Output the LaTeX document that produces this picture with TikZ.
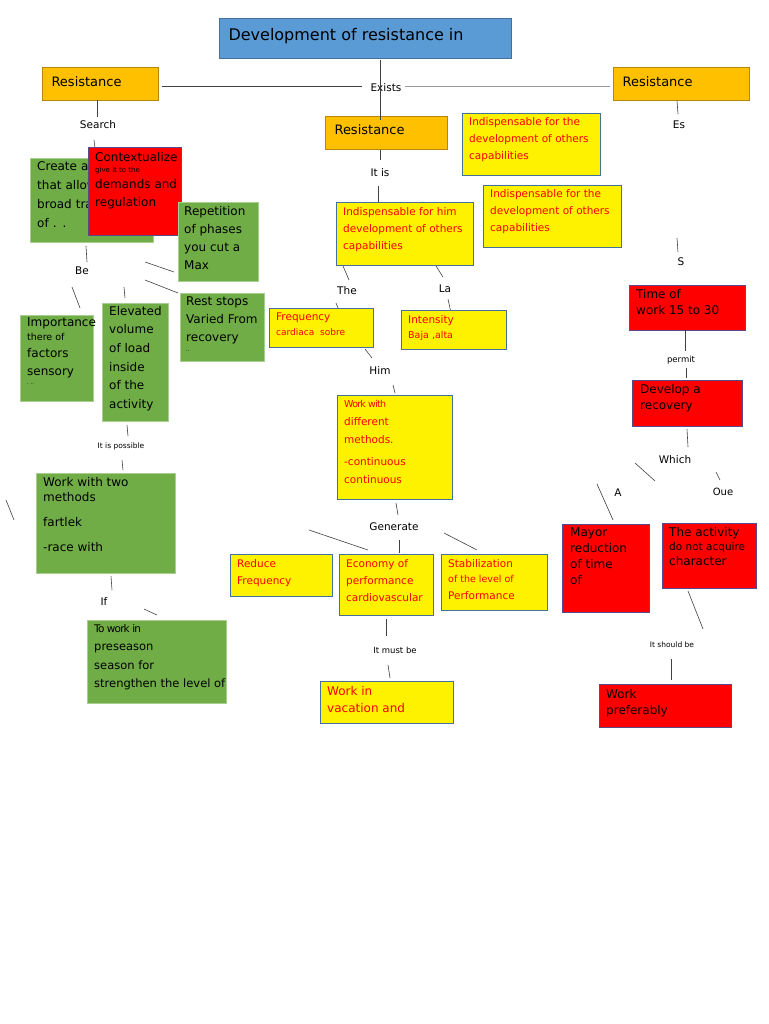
\documentclass[tikz,border=0pt]{standalone}
\usepackage{fontspec}
\setmainfont{DejaVu Sans}
\definecolor{obox}{HTML}{FFC000}
\definecolor{oline}{HTML}{B8860B}
\definecolor{gbox}{HTML}{70AD47}
\definecolor{tbox}{HTML}{5B9BD5}
\definecolor{bline}{HTML}{41719C}
\definecolor{rline}{HTML}{5A4A8A}
\begin{document}
\begin{tikzpicture}[x=1pt,y=-1pt,
 tx/.style={anchor=north west,inner sep=0pt,align=left},
 lab/.style={font=\fontsize{10.5}{11}\selectfont},
 sm/.style={font=\fontsize{7.5}{8}\selectfont},
 ln/.style={draw=black!75,line width=0.6pt},
 gfill/.style={fill=gbox,draw=gbox!60!white},
 rfill/.style={fill=red,draw=rline},
 yfill/.style={fill=yellow,draw=bline}]
\useasboundingbox (0,0) rectangle (768,1024);
\fill[white] (0,0) rectangle (768,1024);
% title
\draw[fill=tbox,draw=bline] (219,18) rectangle (511,58);
\node[anchor=west,font=\fontsize{16}{18}\selectfont] (title) at (225,36) {Development of resistance in};
% resistance boxes
\draw[fill=obox,draw=oline] (42,67) rectangle (158,100);
\node[anchor=west,font=\fontsize{13}{15}\selectfont] (resL) at (48,82) {Resistance};
\draw[fill=obox,draw=oline] (613,67) rectangle (749,100);
\node[anchor=west,font=\fontsize{13}{15}\selectfont] (resR) at (619,82) {Resistance};
\draw[fill=obox,draw=oline] (325,116) rectangle (447,149);
\node[anchor=west,font=\fontsize{13}{15}\selectfont] (resC) at (331,130) {Resistance};
% top lines
\node[lab] (exists) at (386,88) {Exists};
\draw[ln] (162,86) -- (362,86);
\draw[draw=black!40] (405,86) -- (610,86);
\draw[ln] (380,60) -- (380,120);
% left branch
\node[lab] (search) at (98,125) {Search};
\draw[ln] (97,100) -- (97,117);
\draw[ln] (94,140) -- (95,148);
\draw[gfill] (30,158) rectangle (153,242);
\node[tx,text width=95pt,font=\fontsize{12}{19}\selectfont] (create) at (37,161) {Create a base that allows a broad training of . .};
\draw[rfill] (88,147) rectangle (181,235);
\node[tx,font=\fontsize{12}{18}\selectfont] (ctx) at (95,152) {Contextualize\\[-7pt]{\fontsize{7}{7}\selectfont give it to the}\\[-2pt]demands and\\regulation};
\draw[gfill] (178,202) rectangle (258,281);
\node[tx,font=\fontsize{12}{18}\selectfont] (rep) at (184,206) {Repetition\\of phases\\you cut a\\Max};
\draw[gfill] (180,293) rectangle (264,361);
\node[tx,font=\fontsize{12}{18}\selectfont] (rest) at (186,297) {Rest stops\\Varied From\\recovery\\[-8pt]{\tiny ..}};
\node[lab] (be) at (82,271) {Be};
\draw[ln] (86,246) -- (87,262);
\draw[ln] (145,262) -- (174,272);
\draw[ln] (145,280) -- (178,293);
\draw[ln] (72,287) -- (80,308);
\draw[ln] (124,287) -- (125,298);
\draw[gfill] (20,315) rectangle (93,401);
\node[tx,font=\fontsize{12}{18}\selectfont] (imp) at (27,318) {Importance\\[-4pt]{\fontsize{9.5}{10}\selectfont there of}\\[-1pt]factors\\sensory\\[-9pt]{\tiny . ..}};
\draw[gfill] (102,303) rectangle (168,421);
\node[tx,font=\fontsize{12}{18.6}\selectfont] (elev) at (109,306) {Elevated\\volume\\of load\\inside\\of the\\activity};
\node[sm] (poss) at (121,446) {It is possible};
\draw[ln] (127,425) -- (128,436);
\draw[ln] (122,460) -- (123,470);
\draw[gfill] (36,473) rectangle (175,573);
\node[tx,font=\fontsize{12}{15}\selectfont] (two) at (43,477) {Work with two\\methods\\[10pt]fartlek\\[10pt]-race with};
\draw[ln] (6,500) -- (14,520);
\node[lab] (if) at (104,602) {If};
\draw[ln] (111,576) -- (112,590);
\draw[ln] (144,609) -- (157,615);
\draw[gfill] (87,620) rectangle (226,703);
\node[tx,font=\fontsize{11.5}{18.5}\selectfont] (pre) at (94,624) {{\fontsize{10.5}{11}\selectfont\addfontfeature{LetterSpace=-8}To work in}\\preseason\\season for\\strengthen the level of};
% center branch
\node[lab] (itis) at (380,173) {It is};
\draw[ln] (380,150) -- (380,160);
\draw[ln] (378,186) -- (378,210);
\draw[yfill] (336,202) rectangle (473,265);
\node[tx,text=red,font=\fontsize{10.5}{17}\selectfont] (ind) at (343,207) {Indispensable for him\\development of others\\capabilities};
\draw[yfill] (462,113) rectangle (600,175);
\node[tx,text=red,font=\fontsize{10.5}{17}\selectfont] (indA) at (469,117) {Indispensable for the\\development of others\\capabilities};
\draw[yfill] (483,185) rectangle (621,247);
\node[tx,text=red,font=\fontsize{10.5}{17}\selectfont] (indB) at (490,189) {Indispensable for the\\development of others\\capabilities};
\node[lab] (the) at (347,291) {The};
\node[lab,font=\fontsize{10.5}{11}\rmfamily] (la) at (445,289) {La};
\draw[ln] (343,266) -- (349,280);
\draw[ln] (436,266) -- (443,277);
\draw[ln] (448,299) -- (451,313);
\draw[ln] (336,303) -- (338,308);
\draw[yfill] (269,308) rectangle (373,347);
\node[tx,text=red,font=\fontsize{10.5}{17}\selectfont] (freq) at (276,313) {Frequency\\[-2pt]{\rmfamily\fontsize{9}{9}\selectfont cardiaca\ \ sobre}};
\draw[yfill] (401,310) rectangle (506,349);
\node[tx,text=red,font=\fontsize{10.5}{17}\selectfont] (inten) at (408,315) {Intensity\\[-2pt]{\rmfamily\fontsize{9.5}{9}\selectfont Baja ,alta}};
\node[lab] (him) at (380,371) {Him};
\draw[ln] (365,349) -- (372,358);
\draw[ln] (393,385) -- (395,393);
\draw[yfill] (337,395) rectangle (452,499);
\node[tx,text=red,font=\fontsize{10.5}{18}\selectfont] (work) at (344,400) {{\fontsize{9.5}{10}\selectfont\addfontfeature{LetterSpace=-8}Work with}\\different\\methods.\\[4pt]-continuous\\continuous};
\node[lab] (gen) at (394,527) {Generate};
\draw[ln] (396,503) -- (398,515);
\draw[ln] (309,530) -- (368,550);
\draw[ln] (444,533) -- (477,550);
\draw[ln] (399,540) -- (399,553);
\draw[yfill] (230,554) rectangle (332,596);
\node[tx,text=red,font=\fontsize{10.5}{17}\selectfont] (red) at (237,559) {Reduce\\Frequency};
\draw[yfill] (339,554) rectangle (433,615);
\node[tx,text=red,font=\fontsize{10.5}{17}\selectfont] (eco) at (346,559) {Economy of\\performance\\cardiovascular};
\draw[yfill] (441,554) rectangle (547,610);
\node[tx,text=red,font=\fontsize{10.5}{17}\selectfont] (stab) at (448,559) {Stabilization\\[-2pt]{\fontsize{9.5}{10}\selectfont of the level of}\\[0pt]Performance};
\node[font=\fontsize{8.5}{9}\selectfont] (must) at (395,650) {It must be};
\draw[ln] (386,619) -- (386,636);
\draw[ln] (388,665) -- (390,678);
\draw[yfill] (320,681) rectangle (453,723);
\node[tx,text=red,font=\fontsize{12}{17}\selectfont] (vac) at (327,686) {Work in\\vacation and};
% right branch
\node[lab,font=\fontsize{10.5}{11}\rmfamily] (es) at (679,125) {Es};
\draw[ln] (677,101) -- (678,114);
\node[lab] (s) at (681,262) {S};
\draw[ln] (677,238) -- (678,252);
\draw[rfill] (629,285) rectangle (745,330);
\node[tx,font=\fontsize{12}{16}\selectfont] (time) at (636,289) {Time of\\work 15 to 30};
\draw[ln] (685,330) -- (685,351);
\node[font=\fontsize{8.5}{9}\rmfamily] (permit) at (681,360) {permit};
\draw[ln] (686,368) -- (686,378);
\draw[rfill] (632,380) rectangle (742,426);
\node[tx,font=\fontsize{12}{16}\selectfont] (dev) at (640,384) {Develop a\\recovery};
\draw[ln] (687,429) -- (688,447);
\node[lab] (which) at (675,460) {Which};
\draw[ln] (635,463) -- (655,481);
\draw[ln] (716,472) -- (720,480);
\node[lab] (a) at (618,493) {A};
\node[lab,font=\fontsize{10}{10}\rmfamily] (oue) at (723,492) {Oue};
\draw[ln] (597,484) -- (613,520);
\draw[rfill] (562,524) rectangle (649,612);
\node[tx,font=\fontsize{12}{16}\selectfont] (mayor) at (570,528) {Mayor\\reduction\\of time\\of};
\draw[rfill] (662,523) rectangle (756,588);
\node[tx,font=\fontsize{12}{16}\selectfont] (act) at (669,527) {The activity\\[-2pt]{\fontsize{10.5}{11}\selectfont do not acquire}\\[-1pt]character};
\draw[ln] (688,591) -- (703,629);
\node[sm] (should) at (672,645) {It should be};
\draw[ln] (671,659) -- (671,680);
\draw[rfill] (599,684) rectangle (731,727);
\node[tx,font=\fontsize{12}{16}\selectfont] (pref) at (606,689) {Work\\preferably};
\end{tikzpicture}
\end{document}
